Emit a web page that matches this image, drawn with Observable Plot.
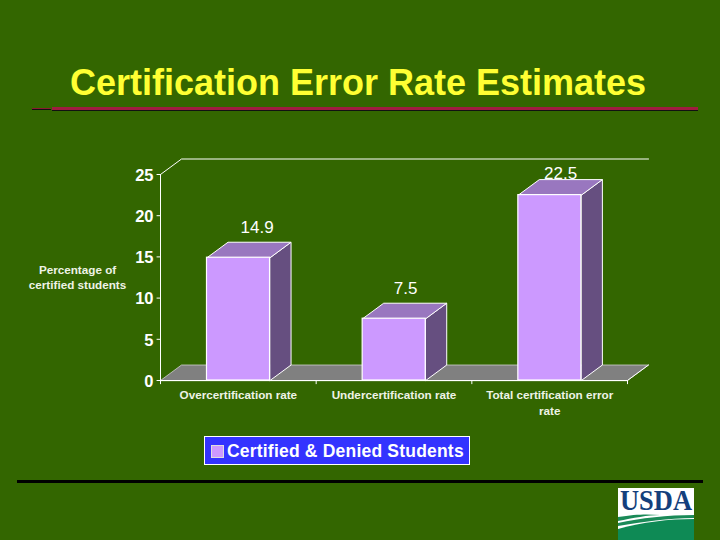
<!DOCTYPE html>
<html><head><meta charset="utf-8">
<script src="https://cdn.jsdelivr.net/npm/d3@7"></script>
<script src="https://cdn.jsdelivr.net/npm/@observablehq/plot@0.6"></script>
<style>
html,body{margin:0;padding:0;background:#336600;width:720px;height:540px;overflow:hidden}
body{position:relative;font-family:"Liberation Sans",Arial,sans-serif}
#title{position:absolute;left:0;top:62px;width:716px;text-align:center;font-size:36px;line-height:41px;font-weight:bold;color:#FFFF33;white-space:nowrap}
.rule{position:absolute}
#chart{position:absolute;left:0;top:140px}
#chart svg{overflow:visible;background:transparent}
#legend{position:absolute;left:204px;top:436px;width:264px;height:27px;background:#3333FF;border:1px solid #fff;color:#fff;font-weight:bold;font-size:17.5px;letter-spacing:.2px;line-height:28px;white-space:nowrap;box-sizing:content-box}
#legend i{position:absolute;left:6px;top:8px;width:11px;height:11px;background:#CC99FF;border:1px solid #ddd}
#legend span{position:absolute;left:22px;top:0}
#logo{position:absolute;left:618px;top:488px;overflow:visible}
</style></head><body>
<div id="title">Certification Error Rate Estimates</div>
<div class="rule" style="left:32px;top:108px;width:19px;height:1px;background:#8a1c30;border-bottom:1px solid #111"></div>
<div class="rule" style="left:52px;top:106.5px;width:646px;height:3.5px;background:#A01C40;border-bottom:1px solid #111"></div>
<div id="chart"></div>
<div id="legend"><i></i><span>Certified &amp; Denied Students</span></div>
<div class="rule" style="left:17px;top:480px;width:686px;height:3px;background:#000"></div>
<svg id="logo" width="76" height="52" viewBox="0 0 76 52">
<rect width="76" height="52" fill="#fff"/>
<text x="38" y="22" text-anchor="middle" font-family="Liberation Serif" font-weight="bold" font-size="30" textLength="72" lengthAdjust="spacingAndGlyphs" fill="#143f7c">USDA</text>
<path d="M0 29 C18 26 30 26 42 27 C30 27 15 30 0 33Z" fill="#1a8a58"/>
<path d="M0 35 C22 30 50 27 76 27 L76 30 C50 30 25 34 0 38Z" fill="#1a8a58"/>
<path d="M0 41 C25 34 50 31 76 31 L76 52 L0 52Z" fill="#0e8a55"/>
</svg>
<script>
const categories = ["Overcertification rate", "Undercertification rate", "Total certification error\nrate"];
const values = [14.9, 7.5, 22.5];
const valueLabels = ["14.9", "7.5", "22.5"];
const labelX = [0.621, 1.574, 2.57];
const labelY = [18.6, 11.2, 25.1];
const yTicks = [0, 5, 10, 15, 20, 25];
const xTicks = [0, 1, 2, 3];
const yAxisLabel = "Percentage of\ncertified students";

const depthX = 0.135, depthY = 1.88, barW = 0.405, yMax = 25;
const bars = values.map((v, i) => ({i, v, x0: i + 0.2987, x1: i + 0.2987 + barW}));
const poly = (pts, id) => pts.map(([x, y]) => ({x, y, id}));
const sideFaces = bars.flatMap(b => poly([[b.x1,0],[b.x1+depthX,depthY],[b.x1+depthX,b.v+depthY],[b.x1,b.v]], "s"+b.i));
const topFaces = bars.flatMap(b => poly([[b.x0,b.v],[b.x0+depthX,b.v+depthY],[b.x1+depthX,b.v+depthY],[b.x1,b.v]], "t"+b.i));
const floor = poly([[0,0],[depthX,depthY],[3+depthX,depthY],[3,0]], "floor");

const polyMark = (data, fill, stroke, w) => Plot.line(data, {x:"x", y:"y", z:"id", fill, stroke, strokeWidth:w, curve:"linear-closed"});

const plot = Plot.plot({
  width: 720, height: 290,
  marginLeft: 160, marginRight: 93, marginTop: 34, marginBottom: 50,
  style: {background: "transparent", fontFamily: '"Liberation Sans",Arial,sans-serif'},
  x: {type: "linear", domain: [0, 3], axis: null},
  y: {type: "linear", domain: [0, yMax], axis: null},
  marks: [
    polyMark(floor, "#808080", "#cfcfcf", 0.8),
    Plot.line([[0,yMax],[depthX,yMax+depthY],[3+depthX,yMax+depthY]], {stroke:"#fff", strokeWidth:1}),
    Plot.ruleX([0], {y1:0, y2:yMax, stroke:"#fff", strokeWidth:1}),
    Plot.ruleY(yTicks, {x1:-0.022, x2:0, y:d=>d, stroke:"#fff", strokeWidth:1}),
    Plot.text(yTicks, {x:0, y:d=>d, text:d=>String(d), textAnchor:"end", dx:-7, dy:1, fill:"#fff", fontWeight:"bold", fontSize:16.5}),
    Plot.text(valueLabels, {x:(d,i)=>labelX[i], y:(d,i)=>labelY[i], text:d=>d, fill:"#fff", fontSize:17}),
    polyMark(sideFaces, "#664F80", "#fff", 1),
    polyMark(topFaces, "#9977BF", "#fff", 1),
    Plot.rect(bars, {x1:"x0", x2:"x1", y1:0, y2:"v", fill:"#CC99FF", stroke:"#fff", strokeWidth:1.2}),
    Plot.ruleY([0], {x1:0, x2:3, stroke:"#fff", strokeWidth:1.2}),
    Plot.line([[3,0],[3+depthX,depthY]], {stroke:"#fff", strokeWidth:1}),
    Plot.ruleX(xTicks, {x:d=>d, y1:0, y2:-0.5, stroke:"#fff", strokeWidth:1}),
    Plot.text(categories, {x:(d,i)=>i+0.5, y:0, text:d=>d, dy:7, lineAnchor:"top", lineHeight:1.37, fill:"#eef3e6", fontSize:11.7, fontWeight:"bold"}),
    Plot.text([yAxisLabel], {x:-0.533, y:12.6, text:d=>d, lineHeight:1.3, fill:"#eef3e6", fontSize:11.7, fontWeight:"bold"})
  ]
});
document.getElementById("chart").append(plot);
</script>
</body></html>
